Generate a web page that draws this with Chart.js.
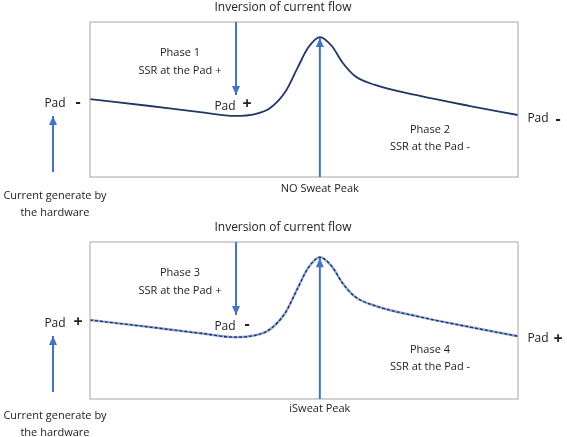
<!DOCTYPE html>
<html><head><meta charset="utf-8">
<script src="https://cdn.jsdelivr.net/npm/chart.js@4"></script>
<style>
body{margin:0;background:#fff}
.wrap{position:relative;width:567px;height:437px}
canvas{position:absolute;left:0;top:0}
</style></head>
<body><div class="wrap"><canvas id="top" width="567" height="437"></canvas><canvas id="bottom" width="567" height="437"></canvas></div>
<script>
// curve shape, same for both panels (x 0..100, y 0..100)
const timeX = [0, 14.0, 25.7, 33.9, 38.6, 42.1, 45.6, 48.6, 50.9, 53.7, 56.5, 58.9, 61.9, 66.6, 77.1, 88.8, 100];
const signalY = [50.3, 45.8, 41.9, 39.4, 40.6, 44.5, 54.8, 71.0, 83.2, 90.3, 84.5, 74.2, 65.2, 59.4, 52.3, 45.8, 40.0];
const topLabels = ['Inversion of current flow', 'Phase 1', 'SSR at the Pad +', 'Phase 2', 'SSR at the Pad -', 'NO Sweat Peak'];
const bottomLabels = ['Inversion of current flow', 'Phase 3', 'SSR at the Pad +', 'Phase 4', 'SSR at the Pad -', 'iSweat Peak'];

const pts = timeX.map((x, i) => ({x: x, y: signalY[i]}));
const font = '"Open Sans", sans-serif';

function arrow(c, x, y1, y2) {
  c.strokeStyle = '#4472c4'; c.fillStyle = '#4472c4'; c.lineWidth = 2;
  c.beginPath(); c.moveTo(x, y1); c.lineTo(x, y2); c.stroke();
  const d = y2 > y1 ? 1 : -1;
  c.beginPath(); c.moveTo(x, y2); c.lineTo(x - 4, y2 - 9 * d); c.lineTo(x + 4, y2 - 9 * d); c.closePath(); c.fill();
}

function decor(labels, padSigns) {
  return {
    id: 'decor',
    afterDraw(chart) {
      const c = chart.ctx, a = chart.chartArea, s = chart.scales;
      const o = a.top - 22;
      c.save();
      c.strokeStyle = '#a6a6a6'; c.lineWidth = 1;
      c.strokeRect(a.left, a.top, a.right - a.left, a.bottom - a.top);
      c.fillStyle = '#222'; c.textAlign = 'center'; c.textBaseline = 'middle';
      c.font = '12px ' + font;
      c.fillText(labels[0], 283, 8 + o);
      c.font = '11px ' + font;
      c.fillText(labels[1], 180, 53 + o);
      c.fillText(labels[2], 180, 71 + o);
      c.fillText(labels[3], 430, 130 + o);
      c.fillText(labels[4], 430, 147 + o);
      c.fillText(labels[5], s.x.getPixelForValue(53.7), 189 + o);
      c.fillText('Current generate by', 55, 196 + o);
      c.fillText('the hardware', 55, 213 + o);
      c.font = '12px ' + font;
      c.fillText('Pad', 55, 104 + o);
      c.fillText('Pad', 225, 107 + o);
      c.fillText('Pad', 538, 119 + o);
      c.font = 'bold 16px ' + font;
      c.fillText(padSigns[0], 78, 102 + o);
      c.fillText(padSigns[1], 247, 104 + o);
      c.fillText(padSigns[2], 558, 119 + o);
      arrow(c, 236, a.top, 95 + o);
      arrow(c, s.x.getPixelForValue(53.7), a.bottom, s.y.getPixelForValue(90.3) + 1);
      arrow(c, 53, 172 + o, 116 + o);
      c.restore();
    }
  };
}

const scales = {
  x: {type: 'linear', min: 0, max: 100, display: false},
  y: {min: 0, max: 100, display: false}
};

new Chart(document.getElementById('top'), {
  type: 'line',
  data: {datasets: [{data: pts, borderColor: '#203864', borderWidth: 1.8, pointRadius: 0, cubicInterpolationMode: 'monotone'}]},
  options: {responsive: false, animation: false, layout: {padding: {left: 90, right: 49, top: 22, bottom: 260}},
    scales: scales, plugins: {legend: {display: false}, tooltip: {enabled: false}}},
  plugins: [decor(topLabels, ['-', '+', '-'])]
});

new Chart(document.getElementById('bottom'), {
  type: 'line',
  data: {datasets: [
    {data: pts, order: 2, borderColor: '#8faadc', borderWidth: 2.5, pointRadius: 0, cubicInterpolationMode: 'monotone'},
    {data: pts, order: 1, borderColor: '#1f2f55', borderWidth: 1.3, borderDash: [3, 2], pointRadius: 0, cubicInterpolationMode: 'monotone'}
  ]},
  options: {responsive: false, animation: false, layout: {padding: {left: 90, right: 49, top: 242, bottom: 38}},
    scales: scales, plugins: {legend: {display: false}, tooltip: {enabled: false}}},
  plugins: [decor(bottomLabels, ['+', '-', '+'])]
});
</script></body></html>
